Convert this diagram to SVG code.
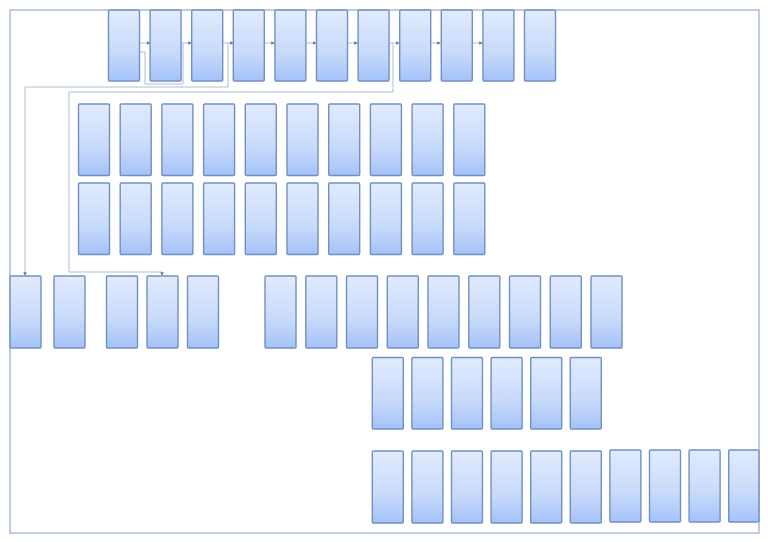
<svg xmlns="http://www.w3.org/2000/svg" width="768" height="542" viewBox="0 0 768 542">
<defs>
<linearGradient id="g" x1="0" y1="0" x2="0" y2="1">
<stop offset="0" stop-color="#e1ebfd"/>
<stop offset="0.6" stop-color="#c8dafb"/>
<stop offset="1" stop-color="#a4c2f8"/>
</linearGradient>
<marker id="ah" viewBox="0 0 6 6" refX="5.5" refY="3" markerWidth="4" markerHeight="4" orient="auto">
<path d="M0,0 L6,3 L0,6 z" fill="#5d7aa6"/>
</marker>
</defs>
<style>
.n{fill:url(#g);stroke:#7191c1;stroke-width:1.4}
.c{fill:none;stroke:#a5b7d3;stroke-width:0.9}
.a{fill:none;stroke:#a5b7d3;stroke-width:0.9;marker-end:url(#ah)}
.f{fill:#ffffff;stroke:#7e9ccb;stroke-width:1}
</style>
<rect x="0" y="0" width="768" height="542" fill="#ffffff"/>
<rect class="f" x="10" y="10" width="749" height="523"/>

<g id="connectors">
<path class="a" d="M139.5,43 H150"/>
<path class="a" d="M181.5,43 H191.5"/>
<path class="a" d="M223,43 H233"/>
<path class="a" d="M264.5,43 H274.5"/>
<path class="a" d="M306,43 H316"/>
<path class="a" d="M347.5,43 H357.5"/>
<path class="a" d="M389,43 H399"/>
<path class="a" d="M430.5,43 H440.5"/>
<path class="a" d="M472,43 H482.5"/>
<path class="c" d="M139.5,52 H145 V84 H183 V43"/>
<path class="a" d="M228,43 V87 H25 V275.5"/>
<path class="a" d="M393,43 V92 H69 V272 H162 V275.5"/>
</g>

<g id="top">
<g id="t1"><rect class="n" x="108.5" y="10" width="31" height="71" rx="1"/></g>
<g id="t2"><rect class="n" x="150.1" y="10" width="31" height="71" rx="1"/></g>
<g id="t3"><rect class="n" x="191.7" y="10" width="31" height="71" rx="1"/></g>
<g id="t4"><rect class="n" x="233.3" y="10" width="31" height="71" rx="1"/></g>
<g id="t5"><rect class="n" x="274.9" y="10" width="31" height="71" rx="1"/></g>
<g id="t6"><rect class="n" x="316.5" y="10" width="31" height="71" rx="1"/></g>
<g id="t7"><rect class="n" x="358.1" y="10" width="31" height="71" rx="1"/></g>
<g id="t8"><rect class="n" x="399.7" y="10" width="31" height="71" rx="1"/></g>
<g id="t9"><rect class="n" x="441.3" y="10" width="31" height="71" rx="1"/></g>
<g id="t10"><rect class="n" x="482.9" y="10" width="31" height="71" rx="1"/></g>
<g id="t11"><rect class="n" x="524.5" y="10" width="31" height="71" rx="1"/></g>
</g>

<g id="gridA">
<g id="a1"><rect class="n" x="78.5" y="104" width="31" height="71.5" rx="1"/></g>
<g id="a2"><rect class="n" x="120.2" y="104" width="31" height="71.5" rx="1"/></g>
<g id="a3"><rect class="n" x="161.9" y="104" width="31" height="71.5" rx="1"/></g>
<g id="a4"><rect class="n" x="203.6" y="104" width="31" height="71.5" rx="1"/></g>
<g id="a5"><rect class="n" x="245.3" y="104" width="31" height="71.5" rx="1"/></g>
<g id="a6"><rect class="n" x="287" y="104" width="31" height="71.5" rx="1"/></g>
<g id="a7"><rect class="n" x="328.7" y="104" width="31" height="71.5" rx="1"/></g>
<g id="a8"><rect class="n" x="370.4" y="104" width="31" height="71.5" rx="1"/></g>
<g id="a9"><rect class="n" x="412.1" y="104" width="31" height="71.5" rx="1"/></g>
<g id="a10"><rect class="n" x="453.8" y="104" width="31" height="71.5" rx="1"/></g>
<g id="b1"><rect class="n" x="78.5" y="183" width="31" height="71.5" rx="1"/></g>
<g id="b2"><rect class="n" x="120.2" y="183" width="31" height="71.5" rx="1"/></g>
<g id="b3"><rect class="n" x="161.9" y="183" width="31" height="71.5" rx="1"/></g>
<g id="b4"><rect class="n" x="203.6" y="183" width="31" height="71.5" rx="1"/></g>
<g id="b5"><rect class="n" x="245.3" y="183" width="31" height="71.5" rx="1"/></g>
<g id="b6"><rect class="n" x="287" y="183" width="31" height="71.5" rx="1"/></g>
<g id="b7"><rect class="n" x="328.7" y="183" width="31" height="71.5" rx="1"/></g>
<g id="b8"><rect class="n" x="370.4" y="183" width="31" height="71.5" rx="1"/></g>
<g id="b9"><rect class="n" x="412.1" y="183" width="31" height="71.5" rx="1"/></g>
<g id="b10"><rect class="n" x="453.8" y="183" width="31" height="71.5" rx="1"/></g>
</g>

<g id="row3">
<g id="c1"><rect class="n" x="10" y="276" width="31" height="72" rx="1"/></g>
<g id="c2"><rect class="n" x="54" y="276" width="31" height="72" rx="1"/></g>
<g id="c3"><rect class="n" x="106.5" y="276" width="31" height="72" rx="1"/></g>
<g id="c4"><rect class="n" x="147" y="276" width="31" height="72" rx="1"/></g>
<g id="c5"><rect class="n" x="187.5" y="276" width="31" height="72" rx="1"/></g>
<g id="c6"><rect class="n" x="265" y="276" width="31" height="72" rx="1"/></g>
<g id="c7"><rect class="n" x="305.8" y="276" width="31" height="72" rx="1"/></g>
<g id="c8"><rect class="n" x="346.5" y="276" width="31" height="72" rx="1"/></g>
<g id="c9"><rect class="n" x="387.3" y="276" width="31" height="72" rx="1"/></g>
<g id="c10"><rect class="n" x="428" y="276" width="31" height="72" rx="1"/></g>
<g id="c11"><rect class="n" x="468.8" y="276" width="31" height="72" rx="1"/></g>
<g id="c12"><rect class="n" x="509.5" y="276" width="31" height="72" rx="1"/></g>
<g id="c13"><rect class="n" x="550.3" y="276" width="31" height="72" rx="1"/></g>
<g id="c14"><rect class="n" x="591" y="276" width="31" height="72" rx="1"/></g>
</g>

<g id="row4">
<g id="d1"><rect class="n" x="372.3" y="357.5" width="31" height="71.5" rx="1"/></g>
<g id="d2"><rect class="n" x="411.9" y="357.5" width="31" height="71.5" rx="1"/></g>
<g id="d3"><rect class="n" x="451.5" y="357.5" width="31" height="71.5" rx="1"/></g>
<g id="d4"><rect class="n" x="491.1" y="357.5" width="31" height="71.5" rx="1"/></g>
<g id="d5"><rect class="n" x="530.7" y="357.5" width="31" height="71.5" rx="1"/></g>
<g id="d6"><rect class="n" x="570.3" y="357.5" width="31" height="71.5" rx="1"/></g>
</g>

<g id="row5">
<g id="e1"><rect class="n" x="372.3" y="451" width="31" height="72" rx="1"/></g>
<g id="e2"><rect class="n" x="411.9" y="451" width="31" height="72" rx="1"/></g>
<g id="e3"><rect class="n" x="451.5" y="451" width="31" height="72" rx="1"/></g>
<g id="e4"><rect class="n" x="491.1" y="451" width="31" height="72" rx="1"/></g>
<g id="e5"><rect class="n" x="530.7" y="451" width="31" height="72" rx="1"/></g>
<g id="e6"><rect class="n" x="570.3" y="451" width="31" height="72" rx="1"/></g>
<g id="e7"><rect class="n" x="609.9" y="450" width="31" height="72" rx="1"/></g>
<g id="e8"><rect class="n" x="649.5" y="450" width="31" height="72" rx="1"/></g>
<g id="e9"><rect class="n" x="689.1" y="450" width="31" height="72" rx="1"/></g>
<g id="e10"><rect class="n" x="728.7" y="450" width="30.3" height="72" rx="1"/></g>
</g>
</svg>
